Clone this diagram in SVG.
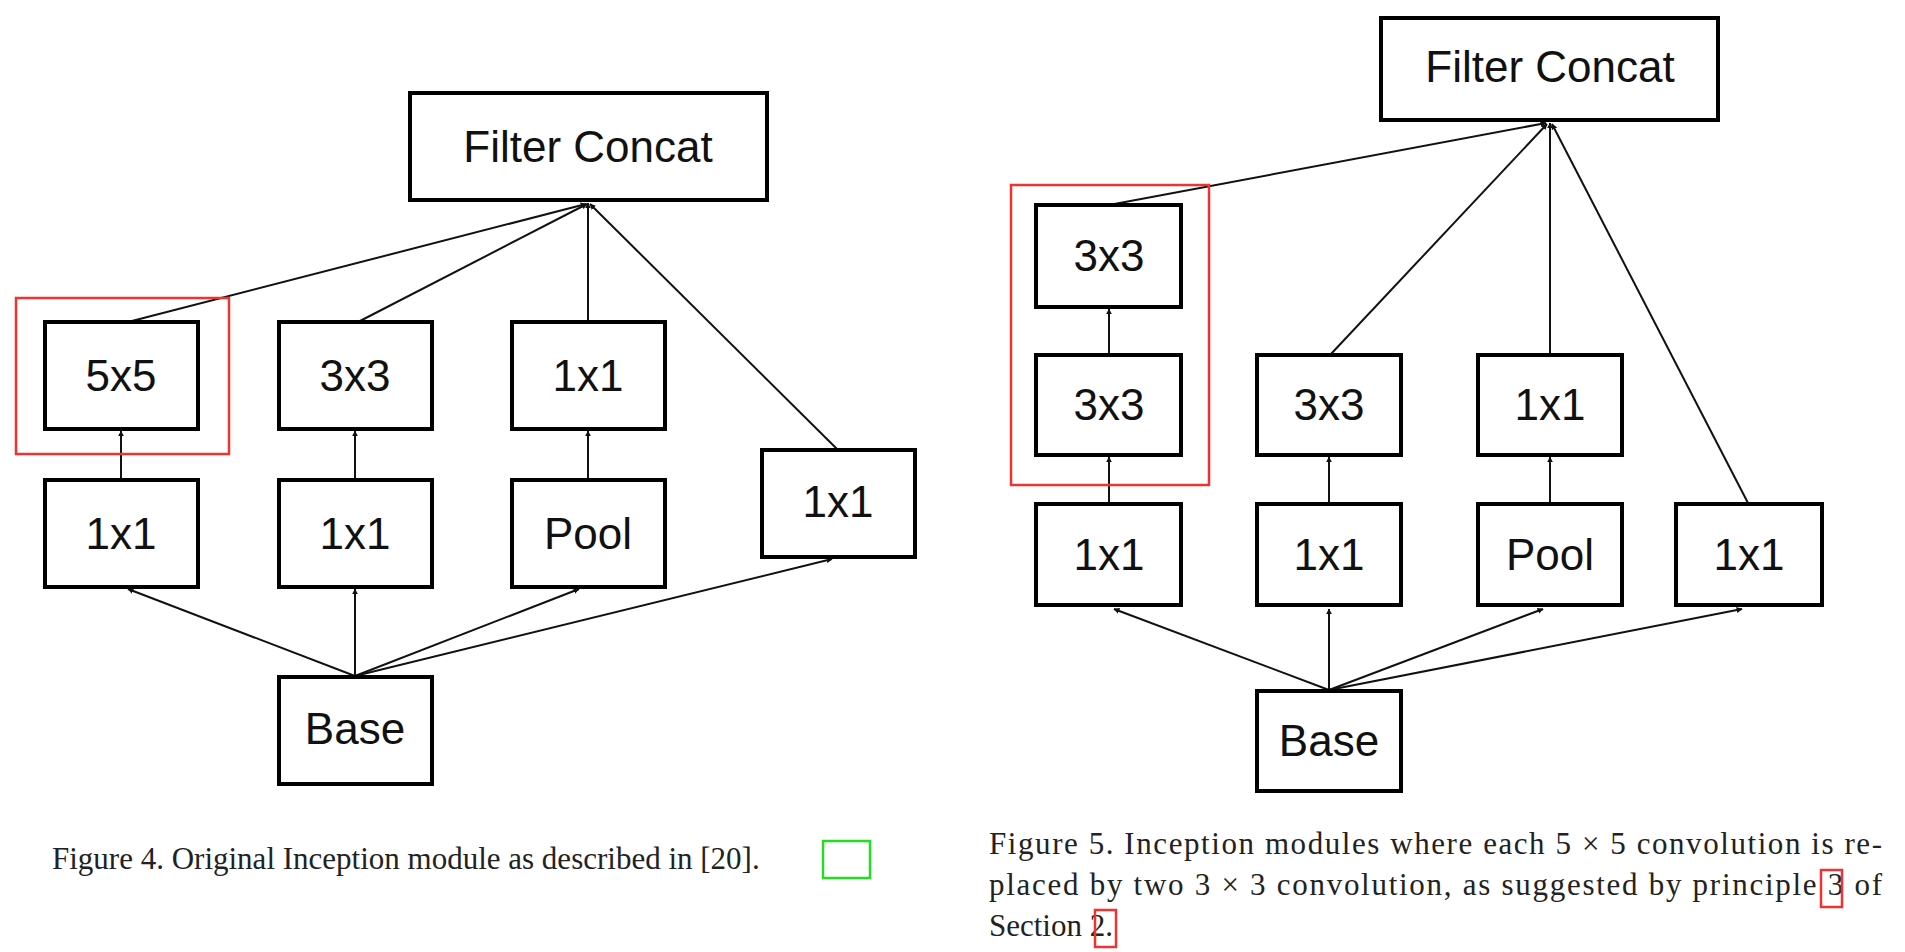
<svg xmlns="http://www.w3.org/2000/svg" width="1905" height="952" viewBox="0 0 1905 952">
<style>
.b{fill:#fff;stroke:#000;stroke-width:4}
.t{font-family:"Liberation Sans",Arial,sans-serif;font-size:44px;text-anchor:middle;fill:#111}
.c{stroke:#111;stroke-width:2;fill:none;marker-end:url(#a)}
.cap{font-family:"Liberation Serif","Times New Roman",serif;font-size:31px;fill:#222}
.hl{fill:none;stroke-width:2.5}
</style>
<defs><marker id="a" viewBox="0 0 10 10" refX="9" refY="5" markerWidth="6" markerHeight="6" orient="auto" markerUnits="userSpaceOnUse"><path d="M0,0L10,5L0,10z" fill="#111"/></marker></defs>
<rect width="1905" height="952" fill="#fff"/>
<g id="connectors">
<line class="c" x1="128" y1="322" x2="586" y2="204"/>
<line class="c" x1="360" y1="321" x2="587" y2="204"/>
<line class="c" x1="588" y1="321" x2="588" y2="203"/>
<line class="c" x1="837" y1="449" x2="590" y2="204"/>
<line class="c" x1="121" y1="480" x2="121" y2="431"/>
<line class="c" x1="355" y1="480" x2="355" y2="431"/>
<line class="c" x1="588" y1="480" x2="588" y2="431"/>
<line class="c" x1="355" y1="676" x2="128" y2="589"/>
<line class="c" x1="355" y1="676" x2="355" y2="589"/>
<line class="c" x1="355" y1="676" x2="579" y2="589"/>
<line class="c" x1="355" y1="676" x2="832" y2="559"/>
<line class="c" x1="1109" y1="205" x2="1546" y2="123"/>
<line class="c" x1="1331" y1="354" x2="1547" y2="124"/>
<line class="c" x1="1550" y1="354" x2="1550" y2="123"/>
<line class="c" x1="1748" y1="503" x2="1552" y2="124"/>
<line class="c" x1="1109" y1="355" x2="1109" y2="309"/>
<line class="c" x1="1109" y1="504" x2="1109" y2="457"/>
<line class="c" x1="1329" y1="504" x2="1329" y2="457"/>
<line class="c" x1="1550" y1="504" x2="1550" y2="457"/>
<line class="c" x1="1329" y1="690" x2="1114" y2="609"/>
<line class="c" x1="1329" y1="690" x2="1329" y2="609"/>
<line class="c" x1="1329" y1="690" x2="1543" y2="609"/>
<line class="c" x1="1329" y1="690" x2="1742" y2="609"/>
</g>
<g id="L-concat"><rect class="b" x="410" y="93" width="357" height="107"/><text class="t" x="588" y="162">Filter Concat</text></g>
<g id="L-5x5"><rect class="b" x="45" y="322" width="153" height="107"/><text class="t" x="121" y="391">5x5</text></g>
<g id="L-3x3"><rect class="b" x="279" y="322" width="153" height="107"/><text class="t" x="355" y="391">3x3</text></g>
<g id="L-1x1a"><rect class="b" x="512" y="322" width="153" height="107"/><text class="t" x="588" y="391">1x1</text></g>
<g id="L-1x1b"><rect class="b" x="45" y="480" width="153" height="107"/><text class="t" x="121" y="549">1x1</text></g>
<g id="L-1x1c"><rect class="b" x="279" y="480" width="153" height="107"/><text class="t" x="355" y="549">1x1</text></g>
<g id="L-pool"><rect class="b" x="512" y="480" width="153" height="107"/><text class="t" x="588" y="549">Pool</text></g>
<g id="L-1x1d"><rect class="b" x="762" y="450" width="153" height="107"/><text class="t" x="838" y="517">1x1</text></g>
<g id="L-base"><rect class="b" x="279" y="677" width="153" height="107"/><text class="t" x="355" y="744">Base</text></g>
<rect class="hl" stroke="#e33" x="16" y="298" width="213" height="156"/>
<text class="cap" x="52" y="869">Figure 4. Original Inception module as described in [20].</text>
<rect class="hl" stroke="#2d2" x="823" y="841" width="47" height="37"/>
<g id="R-concat"><rect class="b" x="1381" y="18" width="337" height="102"/><text class="t" x="1550" y="82">Filter Concat</text></g>
<g id="R-3x3top"><rect class="b" x="1036" y="205" width="145" height="102"/><text class="t" x="1109" y="271">3x3</text></g>
<g id="R-3x3mid"><rect class="b" x="1036" y="355" width="145" height="100"/><text class="t" x="1109" y="420">3x3</text></g>
<g id="R-3x3b"><rect class="b" x="1257" y="355" width="144" height="100"/><text class="t" x="1329" y="420">3x3</text></g>
<g id="R-1x1a"><rect class="b" x="1478" y="355" width="144" height="100"/><text class="t" x="1550" y="420">1x1</text></g>
<g id="R-1x1b"><rect class="b" x="1036" y="504" width="145" height="101"/><text class="t" x="1109" y="570">1x1</text></g>
<g id="R-1x1c"><rect class="b" x="1257" y="504" width="144" height="101"/><text class="t" x="1329" y="570">1x1</text></g>
<g id="R-pool"><rect class="b" x="1478" y="504" width="144" height="101"/><text class="t" x="1550" y="570">Pool</text></g>
<g id="R-1x1d"><rect class="b" x="1676" y="504" width="146" height="101"/><text class="t" x="1749" y="570">1x1</text></g>
<g id="R-base"><rect class="b" x="1257" y="691" width="144" height="100"/><text class="t" x="1329" y="756">Base</text></g>
<rect class="hl" stroke="#e33" x="1011" y="185" width="198" height="300"/>
<text class="cap" x="989" y="854" textLength="893" lengthAdjust="spacing">Figure 5. Inception modules where each 5 × 5 convolution is re-</text>
<text class="cap" x="989" y="895" textLength="893" lengthAdjust="spacing">placed by two 3 × 3 convolution, as suggested by principle 3 of</text>
<text class="cap" x="989" y="936">Section 2.</text>
<rect class="hl" stroke="#e33" x="1821" y="870" width="21" height="37"/>
<rect class="hl" stroke="#e33" x="1095" y="910" width="21" height="37"/>
</svg>
